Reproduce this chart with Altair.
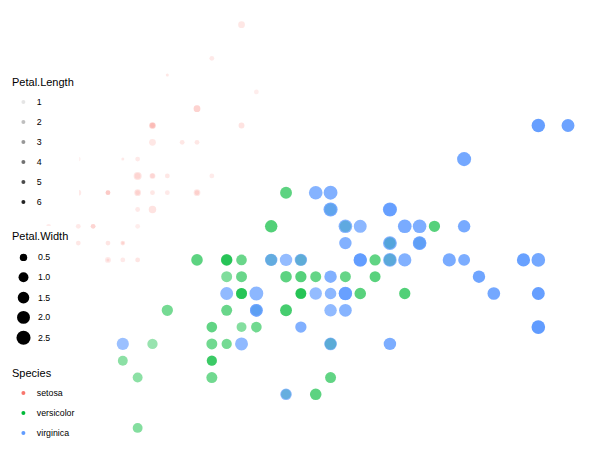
import altair as alt
import pandas as pd

sepal_length = [5.1,4.9,4.7,4.6,5.0,5.4,4.6,5.0,4.4,4.9,5.4,4.8,4.8,4.3,5.8,5.7,5.4,5.1,5.7,5.1,
                5.4,5.1,4.6,5.1,4.8,5.0,5.0,5.2,5.2,4.7,4.8,5.4,5.2,5.5,4.9,5.0,5.5,4.9,4.4,5.1,
                5.0,4.5,4.4,5.0,5.1,4.8,5.1,4.6,5.3,5.0,
                7.0,6.4,6.9,5.5,6.5,5.7,6.3,4.9,6.6,5.2,5.0,5.9,6.0,6.1,5.6,6.7,5.6,5.8,6.2,5.6,
                5.9,6.1,6.3,6.1,6.4,6.6,6.8,6.7,6.0,5.7,5.5,5.5,5.8,6.0,5.4,6.0,6.7,6.3,5.6,5.5,
                5.5,6.1,5.8,5.0,5.6,5.7,5.7,6.2,5.1,5.7,
                6.3,5.8,7.1,6.3,6.5,7.6,4.9,7.3,6.7,7.2,6.5,6.4,6.8,5.7,5.8,6.4,6.5,7.7,7.7,6.0,
                6.9,5.6,7.7,6.3,6.7,7.2,6.2,6.1,6.4,7.2,7.4,7.9,6.4,6.3,6.1,7.7,6.3,6.4,6.0,6.9,
                6.7,6.9,5.8,6.8,6.7,6.7,6.3,6.5,6.2,5.9]
sepal_width = [3.5,3.0,3.2,3.1,3.6,3.9,3.4,3.4,2.9,3.1,3.7,3.4,3.0,3.0,4.0,4.4,3.9,3.5,3.8,3.8,
               3.4,3.7,3.6,3.3,3.4,3.0,3.4,3.5,3.4,3.2,3.1,3.4,4.1,4.2,3.1,3.2,3.5,3.6,3.0,3.4,
               3.5,2.3,3.2,3.5,3.8,3.0,3.8,3.2,3.7,3.3,
               3.2,3.2,3.1,2.3,2.8,2.8,3.3,2.4,2.9,2.7,2.0,3.0,2.2,2.9,2.9,3.1,3.0,2.7,2.2,2.5,
               3.2,2.8,2.5,2.8,2.9,3.0,2.8,3.0,2.9,2.6,2.4,2.4,2.7,2.7,3.0,3.4,3.1,2.3,3.0,2.5,
               2.6,3.0,2.6,2.3,2.7,3.0,2.9,2.9,2.5,2.8,
               3.3,2.7,3.0,2.9,3.0,3.0,2.5,2.9,2.5,3.6,3.2,2.7,3.0,2.5,2.8,3.2,3.0,3.8,2.6,2.2,
               3.2,2.8,2.8,2.7,3.3,3.2,2.8,3.0,2.8,3.0,2.8,3.8,2.8,2.8,2.6,3.0,3.4,3.1,3.0,3.1,
               3.1,3.1,2.7,3.2,3.3,3.0,2.5,3.0,3.4,3.0]
petal_length = [1.4,1.4,1.3,1.5,1.4,1.7,1.4,1.5,1.4,1.5,1.5,1.6,1.4,1.1,1.2,1.5,1.3,1.4,1.7,1.5,
                1.7,1.5,1.0,1.7,1.9,1.6,1.6,1.5,1.4,1.6,1.6,1.5,1.5,1.4,1.5,1.2,1.3,1.4,1.3,1.5,
                1.3,1.3,1.3,1.6,1.9,1.4,1.6,1.4,1.5,1.4,
                4.7,4.5,4.9,4.0,4.6,4.5,4.7,3.3,4.6,3.9,3.5,4.2,4.0,4.7,3.6,4.4,4.5,4.1,4.5,3.9,
                4.8,4.0,4.9,4.7,4.3,4.4,4.8,5.0,4.5,3.5,3.8,3.7,3.9,5.1,4.5,4.5,4.7,4.4,4.1,4.0,
                4.4,4.6,4.0,3.3,4.2,4.2,4.2,4.3,3.0,4.1,
                6.0,5.1,5.9,5.6,5.8,6.6,4.5,6.3,5.8,6.1,5.1,5.3,5.5,5.0,5.1,5.3,5.5,6.7,6.9,5.0,
                5.7,4.9,6.7,4.9,5.7,6.0,4.8,4.9,5.6,5.8,6.1,6.4,5.6,5.1,5.6,6.1,5.6,5.5,4.8,5.4,
                5.6,5.1,5.1,5.9,5.7,5.2,5.0,5.2,5.4,5.1]
petal_width = [0.2,0.2,0.2,0.2,0.2,0.4,0.3,0.2,0.2,0.1,0.2,0.2,0.1,0.1,0.2,0.4,0.4,0.3,0.3,0.3,
               0.2,0.4,0.2,0.5,0.2,0.2,0.4,0.2,0.2,0.2,0.2,0.4,0.1,0.2,0.2,0.2,0.2,0.1,0.2,0.2,
               0.3,0.3,0.2,0.6,0.4,0.3,0.2,0.2,0.2,0.2,
               1.4,1.5,1.5,1.3,1.5,1.3,1.6,1.0,1.3,1.4,1.0,1.5,1.0,1.4,1.3,1.4,1.5,1.0,1.5,1.1,
               1.8,1.3,1.5,1.2,1.3,1.4,1.4,1.7,1.5,1.0,1.1,1.0,1.2,1.6,1.5,1.6,1.5,1.3,1.3,1.3,
               1.2,1.4,1.2,1.0,1.3,1.2,1.3,1.3,1.1,1.3,
               2.5,1.9,2.1,1.8,2.2,2.1,1.7,1.8,1.8,2.5,2.0,1.9,2.1,2.0,2.4,2.3,1.8,2.2,2.3,1.5,
               2.3,2.0,2.0,1.8,2.1,1.8,1.8,1.8,2.1,1.6,1.9,2.0,2.2,1.5,1.4,2.3,2.4,1.8,1.8,2.1,
               2.4,2.3,1.9,2.3,2.5,2.3,1.9,2.0,2.3,1.8]
species_names = ["setosa", "versicolor", "virginica"]
species = [s for s in species_names for _ in range(50)]
species_colors = ["#F8766D", "#00BA38", "#619CFF"]
length_breaks = [1, 2, 3, 4, 5, 6]
width_breaks = [0.5, 1.0, 1.5, 2.0, 2.5]

df = pd.DataFrame({
    "sepal_length": sepal_length,
    "sepal_width": sepal_width,
    "petal_length": petal_length,
    "petal_width": petal_width,
    "species": species,
})

FONT = "Liberation Sans"
common = dict(
    orient="none", titleFont=FONT, titleFontSize=11, titleFontWeight="normal",
    titleColor="black", labelFont=FONT, labelFontSize=8.8, labelColor="black",
    fillColor="white", padding=5, symbolStrokeWidth=0, titleAnchor="start",
)

chart = alt.Chart(df).mark_circle().encode(
    x=alt.X("sepal_length:Q", axis=None,
            scale=alt.Scale(domain=[4.1264, 8.0617], nice=False, zero=False)),
    y=alt.Y("sepal_width:Q", axis=None,
            scale=alt.Scale(domain=[1.8804, 4.4994], nice=False, zero=False)),
    opacity=alt.Opacity("petal_length:Q",
                        scale=alt.Scale(domain=[1, 6.9], range=[0.1, 1]),
                        legend=alt.Legend(title="Petal.Length",
                                          values=length_breaks, format="d",
                                          symbolFillColor="black", symbolSize=16,
                                          symbolType="circle",
                                          legendX=-1, legendY=64,
                                          titlePadding=9.6, rowPadding=10,
                                          symbolOffset=7, labelOffset=9,
                                          **common)),
    size=alt.Size("petal_width:Q",
                  scale=alt.Scale(type="pow", exponent=0.7,
                                  domain=[0.1, 2.5], range=[9, 198]),
                  legend=alt.Legend(title="Petal.Width",
                                    values=width_breaks, format=".1f",
                                    symbolFillColor="black", symbolOpacity=1,
                                    symbolType="circle", gridAlign="all",
                                    legendX=-1, legendY=218,
                                    titlePadding=11, rowPadding=4.3,
                                    symbolOffset=4, labelOffset=7,
                                    **common)),
    color=alt.Color("species:N",
                    scale=alt.Scale(domain=species_names, range=species_colors),
                    legend=alt.Legend(title="Species",
                                      symbolSize=16, symbolOpacity=1,
                                      symbolType="circle",
                                      legendX=-1, legendY=355,
                                      titlePadding=9.6, rowPadding=10,
                                      symbolOffset=7, labelOffset=9,
                                      **common)),
).properties(
    width=584, height=440, padding=0, autosize=alt.AutoSizeParams(type="none"),
    background="white",
).configure_view(strokeWidth=0)

chart.save("out.html", embed_options={"renderer": "svg", "actions": False})
